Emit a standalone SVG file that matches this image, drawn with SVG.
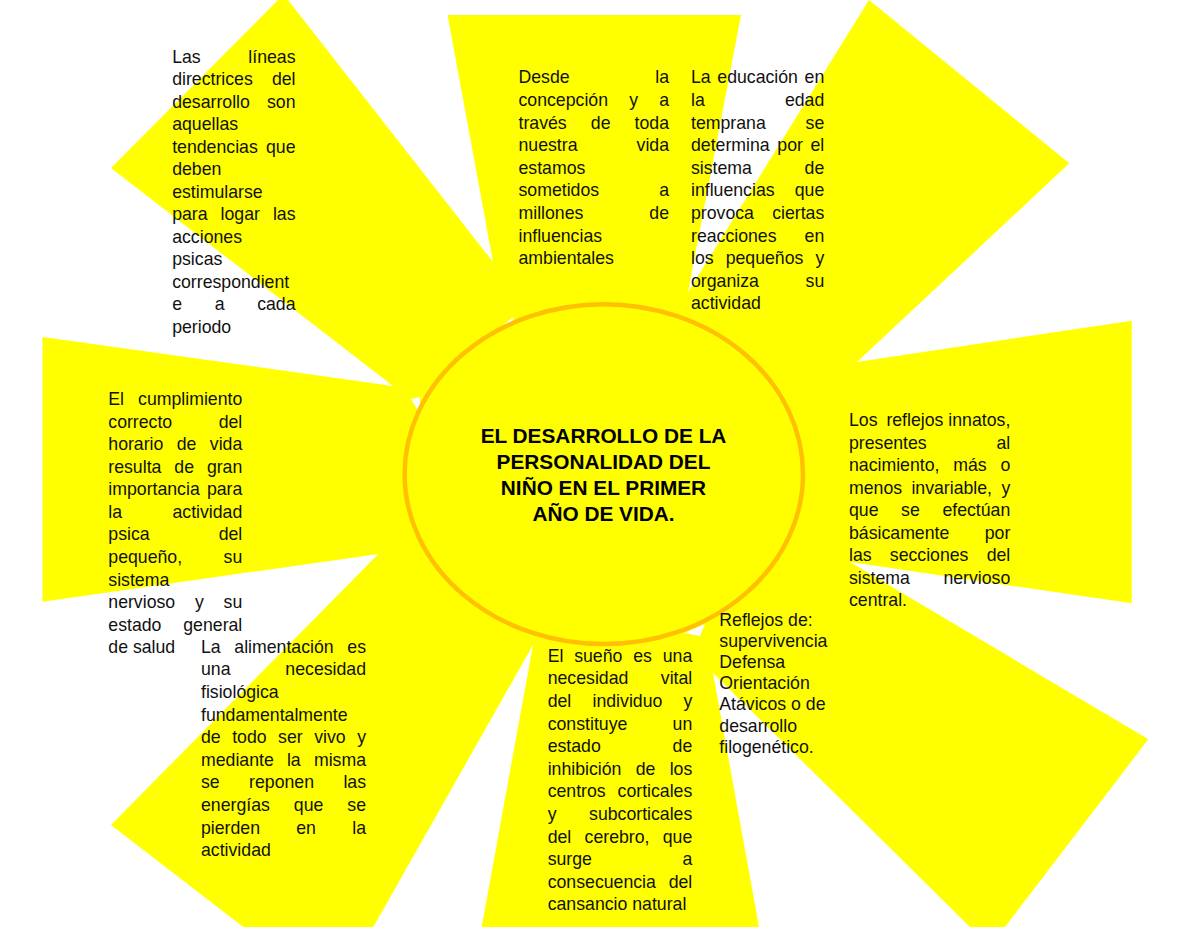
<svg xmlns="http://www.w3.org/2000/svg" width="1200" height="927" viewBox="0 0 1200 927">
<style>
.b{font-family:"Liberation Sans",Arial,sans-serif;font-size:17.7px;fill:#111}
.r{text-anchor:end}
.t{font-family:"Liberation Sans",Arial,sans-serif;font-size:20.8px;font-weight:bold;fill:#000;text-anchor:middle}
.ray{fill:#FFFF00}
.notch{fill:#FFFFFF}
</style>
<rect width="1200" height="927" fill="#FFFFFF"/>
<g id="sun">
<polygon class="ray" points="278,0 288,0 493,262 447.6,15 741,15 688,292 869,0 1069.3,163.3 857,362 1131.7,320.7 1131.7,603.3 850,562 1148.3,739.3 1005,927 970,927 713,673 759,927 481.7,927 533,645 373.3,927 243.3,927 111,825 378.3,554 42.5,601.7 42.5,337 393,386 111,168"/>
<polygon class="notch" points="494,333 513,317 515,331"/>
<polygon class="notch" points="411,399 420,397 420,414"/>
<polygon class="notch" points="684,633 705,624 700,636"/>
</g>
<g id="center">
<ellipse cx="603.8" cy="474.2" rx="199.2" ry="169.9" fill="#FFFF00" stroke="#FFC000" stroke-width="4.5"/>
<text class="t" x="603.5" y="442.7">EL DESARROLLO DE LA</text>
<text class="t" x="603.5" y="469">PERSONALIDAD DEL</text>
<text class="t" x="603.5" y="495">NIÑO EN EL PRIMER</text>
<text class="t" x="603.5" y="521">AÑO DE VIDA.</text>
</g>
<g id="node-lineas">
<text class="b" x="172.2" y="62.7">Las</text><text class="b r" x="295.5" y="62.7">líneas</text>
<text class="b" x="172.2" y="85.2">directrices</text><text class="b r" x="295.5" y="85.2">del</text>
<text class="b" x="172.2" y="107.7">desarrollo</text><text class="b r" x="295.5" y="107.7">son</text>
<text class="b" x="172.2" y="130.2">aquellas</text>
<text class="b" x="172.2" y="152.7">tendencias</text><text class="b r" x="295.5" y="152.7">que</text>
<text class="b" x="172.2" y="175.2">deben</text>
<text class="b" x="172.2" y="197.7">estimularse</text>
<text class="b" x="172.2" y="220.2">para</text><text class="b" x="220.6" y="220.2">logar</text><text class="b r" x="295.5" y="220.2">las</text>
<text class="b" x="172.2" y="242.7">acciones</text>
<text class="b" x="172.2" y="265.2">psicas</text>
<text class="b" x="172.2" y="287.7">correspondient</text>
<text class="b" x="172.2" y="310.2">e</text><text class="b" x="214.7" y="310.2">a</text><text class="b r" x="295.5" y="310.2">cada</text>
<text class="b" x="172.2" y="332.7">periodo</text>
</g>
<g id="node-concepcion">
<text class="b" x="518.5" y="83.3">Desde</text><text class="b r" x="669" y="83.3">la</text>
<text class="b" x="518.5" y="105.9">concepción</text><text class="b" x="629.2" y="105.9">y</text><text class="b r" x="669" y="105.9">a</text>
<text class="b" x="518.5" y="128.5">través</text><text class="b" x="590.8" y="128.5">de</text><text class="b r" x="669" y="128.5">toda</text>
<text class="b" x="518.5" y="151.1">nuestra</text><text class="b r" x="669" y="151.1">vida</text>
<text class="b" x="518.5" y="173.7">estamos</text>
<text class="b" x="518.5" y="196.3">sometidos</text><text class="b r" x="669" y="196.3">a</text>
<text class="b" x="518.5" y="218.9">millones</text><text class="b r" x="669" y="218.9">de</text>
<text class="b" x="518.5" y="241.5">influencias</text>
<text class="b" x="518.5" y="264.1">ambientales</text>
</g>
<g id="node-educacion">
<text class="b" x="691" y="83.3">La</text><text class="b" x="717.3" y="83.3">educación</text><text class="b r" x="824.3" y="83.3">en</text>
<text class="b" x="691" y="105.9">la</text><text class="b r" x="824.3" y="105.9">edad</text>
<text class="b" x="691" y="128.5">temprana</text><text class="b r" x="824.3" y="128.5">se</text>
<text class="b" x="691" y="151.1">determina</text><text class="b" x="777.3" y="151.1">por</text><text class="b r" x="824.3" y="151.1">el</text>
<text class="b" x="691" y="173.7">sistema</text><text class="b r" x="824.3" y="173.7">de</text>
<text class="b" x="691" y="196.3">influencias</text><text class="b r" x="824.3" y="196.3">que</text>
<text class="b" x="691" y="218.9">provoca</text><text class="b r" x="824.3" y="218.9">ciertas</text>
<text class="b" x="691" y="241.5">reacciones</text><text class="b r" x="824.3" y="241.5">en</text>
<text class="b" x="691" y="264.1">los</text><text class="b" x="725.7" y="264.1">pequeños</text><text class="b r" x="824.3" y="264.1">y</text>
<text class="b" x="691" y="286.7">organiza</text><text class="b r" x="824.3" y="286.7">su</text>
<text class="b" x="691" y="309.3">actividad</text>
</g>
<g id="node-horario">
<text class="b" x="108.3" y="405">El</text><text class="b r" x="242.3" y="405">cumplimiento</text>
<text class="b" x="108.3" y="427.6">correcto</text><text class="b r" x="242.3" y="427.6">del</text>
<text class="b" x="108.3" y="450.1">horario</text><text class="b" x="176.75" y="450.1">de</text><text class="b r" x="242.3" y="450.1">vida</text>
<text class="b" x="108.3" y="472.7">resulta</text><text class="b" x="174.3" y="472.7">de</text><text class="b r" x="242.3" y="472.7">gran</text>
<text class="b" x="108.3" y="495.3">importancia</text><text class="b r" x="242.3" y="495.3">para</text>
<text class="b" x="108.3" y="517.9">la</text><text class="b r" x="242.3" y="517.9">actividad</text>
<text class="b" x="108.3" y="540.4">psica</text><text class="b r" x="242.3" y="540.4">del</text>
<text class="b" x="108.3" y="563">pequeño,</text><text class="b r" x="242.3" y="563">su</text>
<text class="b" x="108.3" y="585.6">sistema</text>
<text class="b" x="108.3" y="608.1">nervioso</text><text class="b" x="195" y="608.1">y</text><text class="b r" x="242.3" y="608.1">su</text>
<text class="b" x="108.3" y="630.7">estado</text><text class="b r" x="242.3" y="630.7">general</text>
<text class="b" x="108.3" y="653.3">de salud</text>
</g>
<g id="node-alimentacion">
<text class="b" x="201" y="652.7">La</text><text class="b" x="234.3" y="652.7">alimentación</text><text class="b r" x="366" y="652.7">es</text>
<text class="b" x="201" y="675.3">una</text><text class="b r" x="366" y="675.3">necesidad</text>
<text class="b" x="201" y="697.9">fisiológica</text>
<text class="b" x="201" y="720.5">fundamentalmente</text>
<text class="b" x="201" y="743.1">de</text><text class="b" x="232.2" y="743.1">todo</text><text class="b" x="278.1" y="743.1">ser</text><text class="b" x="314.2" y="743.1">vivo</text><text class="b r" x="366" y="743.1">y</text>
<text class="b" x="201" y="765.7">mediante</text><text class="b" x="286.95" y="765.7">la</text><text class="b r" x="366" y="765.7">misma</text>
<text class="b" x="201" y="788.3">se</text><text class="b" x="249.1" y="788.3">reponen</text><text class="b r" x="366" y="788.3">las</text>
<text class="b" x="201" y="810.9">energías</text><text class="b" x="293.85" y="810.9">que</text><text class="b r" x="366" y="810.9">se</text>
<text class="b" x="201" y="833.5">pierden</text><text class="b" x="296.25" y="833.5">en</text><text class="b r" x="366" y="833.5">la</text>
<text class="b" x="201" y="856.1">actividad</text>
</g>
<g id="node-sueno">
<text class="b" x="547.7" y="661.7">El</text><text class="b" x="574.2" y="661.7">sueño</text><text class="b" x="633.2" y="661.7">es</text><text class="b r" x="692.3" y="661.7">una</text>
<text class="b" x="547.7" y="684.3">necesidad</text><text class="b r" x="692.3" y="684.3">vital</text>
<text class="b" x="547.7" y="706.9">del</text><text class="b" x="592.5" y="706.9">individuo</text><text class="b r" x="692.3" y="706.9">y</text>
<text class="b" x="547.7" y="729.5">constituye</text><text class="b r" x="692.3" y="729.5">un</text>
<text class="b" x="547.7" y="752.1">estado</text><text class="b r" x="692.3" y="752.1">de</text>
<text class="b" x="547.7" y="774.7">inhibición</text><text class="b" x="635.75" y="774.7">de</text><text class="b r" x="692.3" y="774.7">los</text>
<text class="b" x="547.7" y="797.3">centros</text><text class="b r" x="692.3" y="797.3">corticales</text>
<text class="b" x="547.7" y="819.9">y</text><text class="b r" x="692.3" y="819.9">subcorticales</text>
<text class="b" x="547.7" y="842.5">del</text><text class="b" x="584.6" y="842.5">cerebro,</text><text class="b r" x="692.3" y="842.5">que</text>
<text class="b" x="547.7" y="865.1">surge</text><text class="b r" x="692.3" y="865.1">a</text>
<text class="b" x="547.7" y="887.7">consecuencia</text><text class="b r" x="692.3" y="887.7">del</text>
<text class="b" x="547.7" y="910.3">cansancio natural</text>
</g>
<g id="node-reflejos-innatos">
<text class="b" x="849" y="426">Los</text><text class="b" x="886.4" y="426">reflejos</text><text class="b r" x="1010.3" y="426">innatos,</text>
<text class="b" x="849" y="448.5">presentes</text><text class="b r" x="1010.3" y="448.5">al</text>
<text class="b" x="849" y="471">nacimiento,</text><text class="b" x="953.3" y="471">más</text><text class="b r" x="1010.3" y="471">o</text>
<text class="b" x="849" y="493.5">menos</text><text class="b" x="911.4" y="493.5">invariable,</text><text class="b r" x="1010.3" y="493.5">y</text>
<text class="b" x="849" y="516">que</text><text class="b" x="901.1" y="516">se</text><text class="b r" x="1010.3" y="516">efectúan</text>
<text class="b" x="849" y="538.5">básicamente</text><text class="b r" x="1010.3" y="538.5">por</text>
<text class="b" x="849" y="561">las</text><text class="b" x="889.8" y="561">secciones</text><text class="b r" x="1010.3" y="561">del</text>
<text class="b" x="849" y="583.5">sistema</text><text class="b r" x="1010.3" y="583.5">nervioso</text>
<text class="b" x="849" y="606">central.</text>
</g>
<g id="node-tipos-reflejos">
<text class="b" x="719.3" y="626">Reflejos de:</text>
<text class="b" x="719.3" y="647.1">supervivencia</text>
<text class="b" x="719.3" y="668.2">Defensa</text>
<text class="b" x="719.3" y="689.3">Orientación</text>
<text class="b" x="719.3" y="710.4">Atávicos o de</text>
<text class="b" x="719.3" y="731.5">desarrollo</text>
<text class="b" x="719.3" y="752.6">filogenético.</text>
</g>
</svg>
